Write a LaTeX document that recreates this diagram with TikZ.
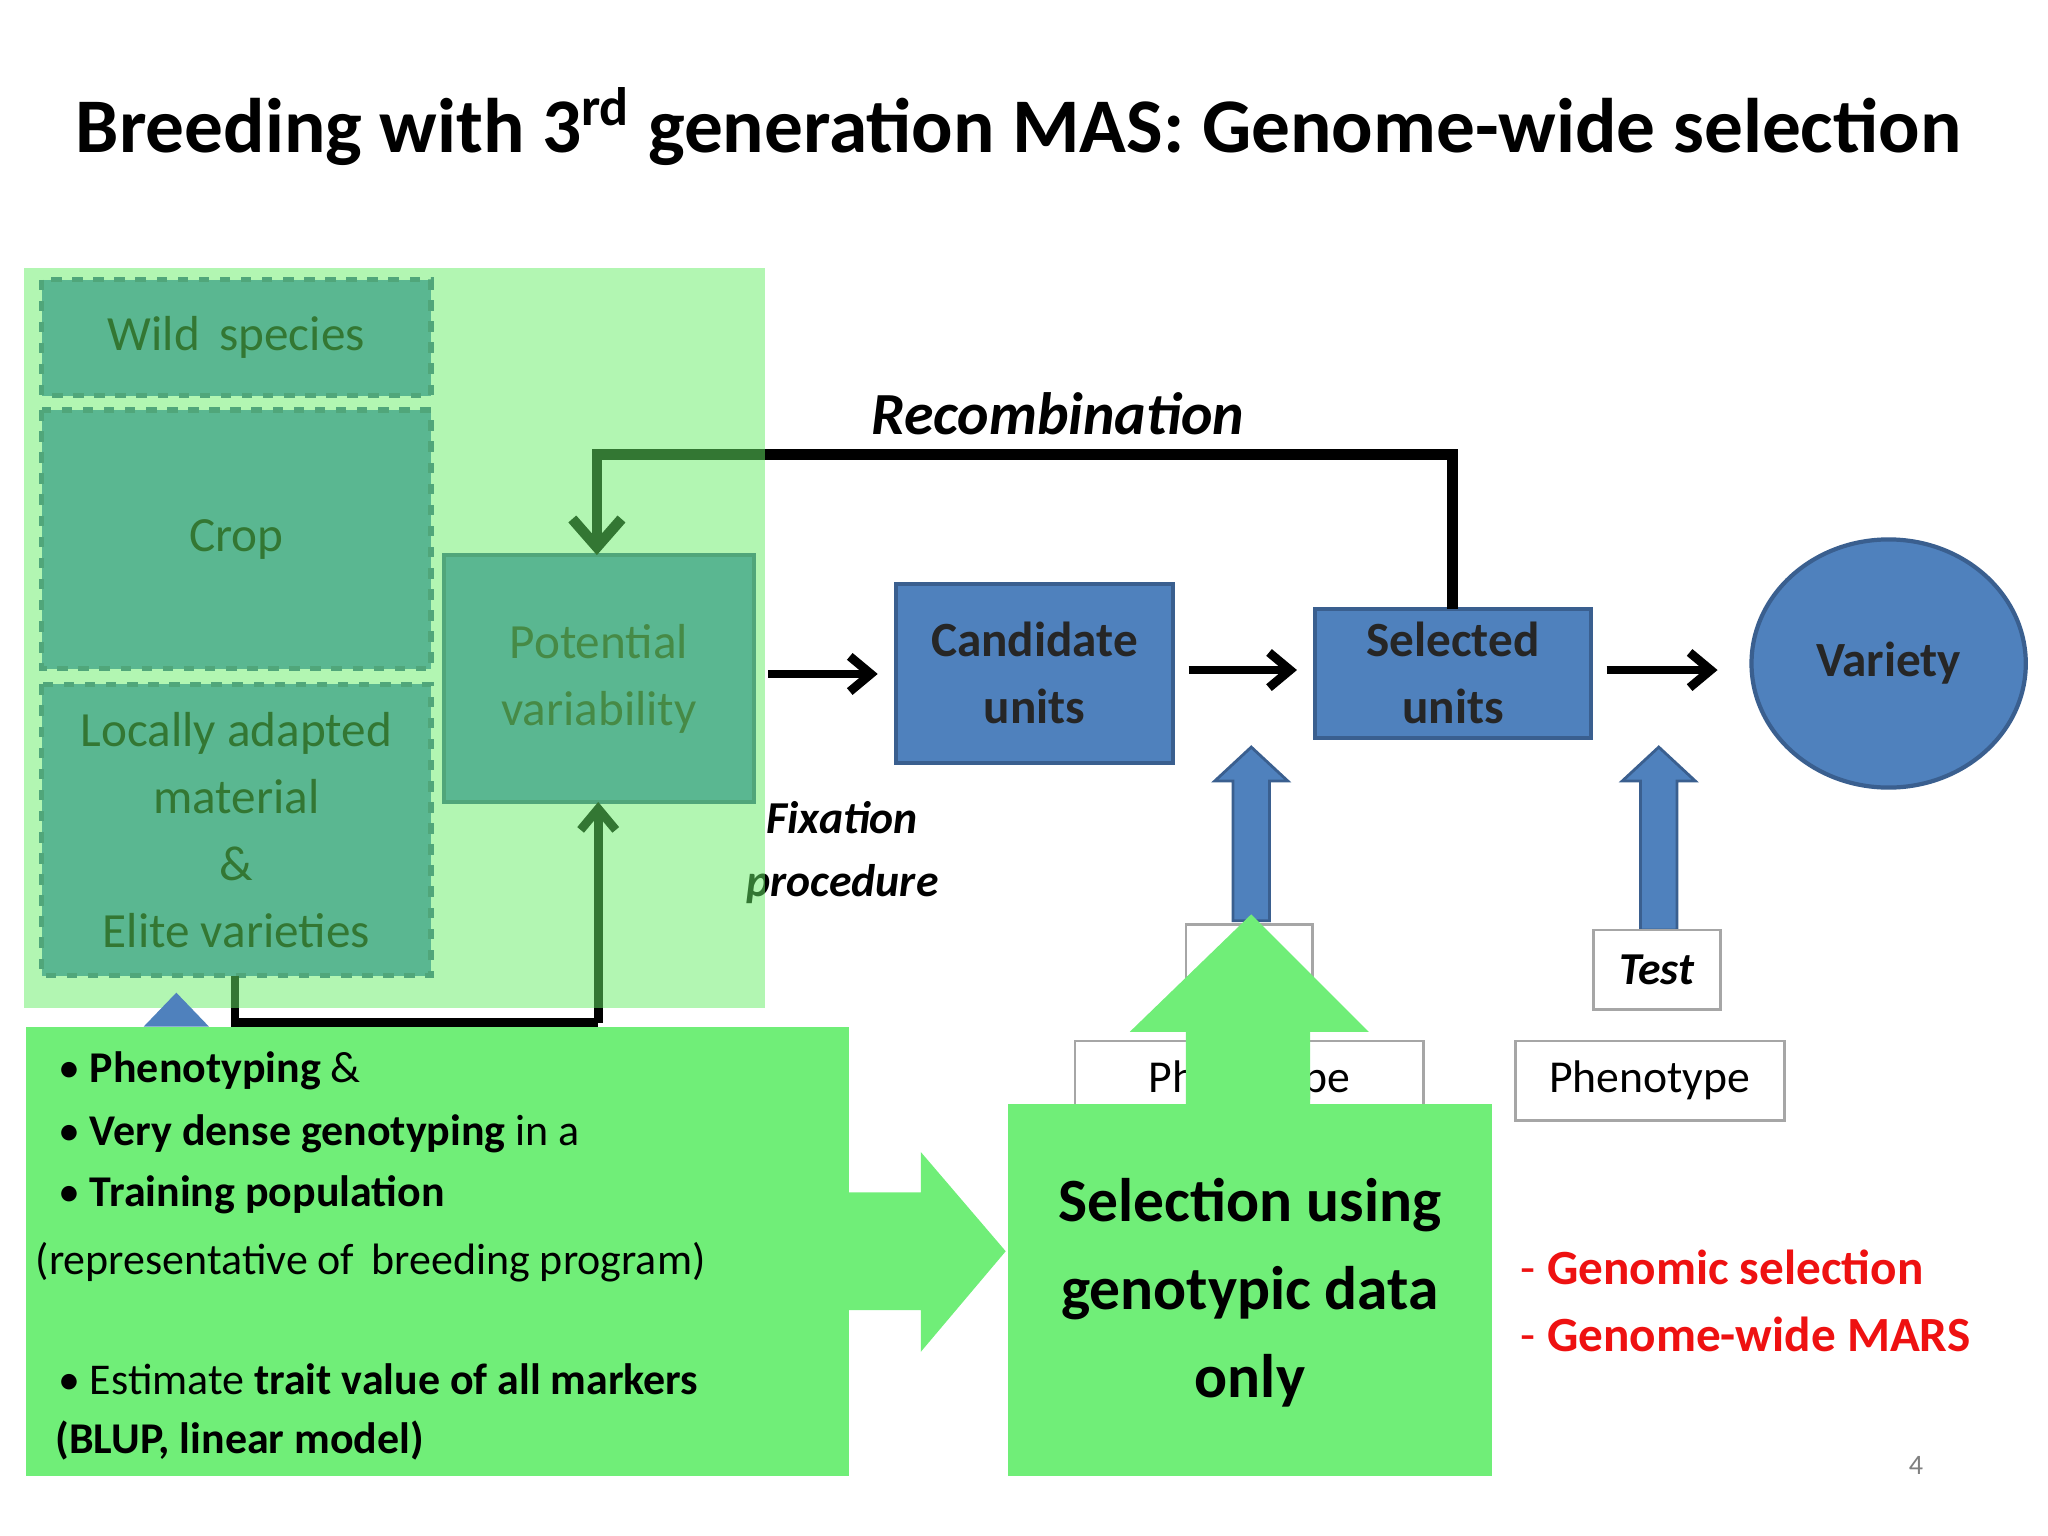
\documentclass[tikz,border=0pt]{standalone}
\usepackage{fontspec}
\setmainfont{Carlito}
\usetikzlibrary{arrows.meta}
\definecolor{bx}{HTML}{4F81BD}
\definecolor{bxd}{HTML}{3A5F8F}
\definecolor{gov}{HTML}{66EE66}
\definecolor{gsol}{HTML}{70EE78}
\definecolor{redt}{HTML}{EE1111}
\tikzset{
  blue box/.style={fill=bx,draw=bxd,line width=1.2pt,align=center,font=\fontsize{14}{17}\selectfont\bfseries,text=black!85},
  dash box/.style={fill=bx,draw=bxd,line width=1.5pt,dashed,align=center,font=\fontsize{14}{17}\selectfont,text=black},
  flow/.style={-{Straight Barb[length=6pt,width=10pt]},line width=2.5pt},
  wbox/.style={draw=gray!70,fill=white,line width=0.8pt},
  bluearrow/.style={fill=bx,draw=bxd,line width=0.8pt}
}
\begin{document}
\begin{tikzpicture}[x=0.01306cm,y=-0.01306cm]
\useasboundingbox (0,0) rectangle (1568,1176);
\node (title) at (780,97) {\fontsize{22}{26}\selectfont\bfseries Breeding with 3\textsuperscript{rd} generation MAS: Genome-wide selection};
\draw[dash box] (32,214) rectangle (330,303) node[midway] (wild) {Wild\, species};
\draw[dash box] (32,314) rectangle (330,512) node[midway] (crop) {Crop};
\draw[dash box] (32,524) rectangle (330,747) node[midway] (local) {Locally adapted\\[2pt]material\\[2pt]\&\\[2pt]Elite varieties};
\draw[blue box,font=\fontsize{14}{17}\selectfont] (340,425) rectangle (577,614) node[midway] (pot) {Potential\\[2pt]variability};
\coordinate (pottop) at (457,425);
\coordinate (potbot) at (458,614);
\draw[blue box] (686,447) rectangle (898,584) node[midway] (cand) {Candidate\\[2pt]units};
\draw[blue box] (1007,466) rectangle (1218,565) node[midway] (sel) {Selected\\[2pt]units};
\fill[bx] (1446,508) ellipse [x radius=105, y radius=95];
\draw[bxd,line width=1.2pt] (1446,508) ellipse [x radius=105, y radius=95];
\node[font=\fontsize{14}{17}\selectfont\bfseries,text=black!85] (var) at (1446,508) {Variety};
\coordinate (s0) at (1112,466);
\coordinate (r1) at (1112,348); \coordinate (r2) at (457,348);
\draw[line width=3pt] (s0) -- (r1) -- (r2) -- (457,410);
\draw[-{Straight Barb[length=8pt,width=14pt]},line width=3pt] (457,400) -- (pottop);
\node[font=\fontsize{17}{20}\selectfont\bfseries\itshape] (rec) at (810,317) {Recombination};
\draw[flow] (588,516) -- (672,516);
\draw[flow] (910,513) -- (993,513);
\draw[flow] (1230,513) -- (1315,513);
\coordinate (c1) at (180,783); \coordinate (c2) at (458,783);
\draw[line width=2.5pt] (180,747) -- (c1) -- (c2);
\draw[flow] (c2) -- (potbot);
\node[font=\fontsize{13}{16}\selectfont\bfseries\itshape,align=center] (fix) at (645,653) {Fixation\\[2pt]procedure};
\fill[gov,opacity=0.5] (18,205) rectangle (586,772);
\draw[bluearrow] (944,705) -- (944,598) -- (930,598) -- (958,572) -- (986,598) -- (972,598) -- (972,705) -- cycle;
\draw[bluearrow] (1256,712) -- (1256,598) -- (1242,598) -- (1270,572) -- (1298,598) -- (1284,598) -- (1284,712) -- cycle;
\draw[wbox] (908,708) rectangle (1005,770);
\draw[wbox] (1220,712) rectangle (1317,773) node[midway,font=\fontsize{13}{16}\selectfont\bfseries\itshape] (test) {Test};
\draw[wbox] (823,797) rectangle (1090,858) node[midway,font=\fontsize{13}{16}\selectfont] (ph1) {Phenotype};
\draw[wbox] (1160,797) rectangle (1366,858) node[midway,font=\fontsize{13}{16}\selectfont] (ph2) {Phenotype};
\fill[gsol] (908,850) -- (908,790) -- (865,790) -- (958,700) -- (1048,790) -- (1003,790) -- (1003,850) -- cycle;
\fill[bx] (110,786) -- (135,760) -- (160,786) -- cycle;
\fill[gsol] (20,786) rectangle (650,1130);
\node[font=\fontsize{12.5}{15}\selectfont,anchor=west] at (35,820) {• \textbf{Phenotyping} \&};
\node[font=\fontsize{12.5}{15}\selectfont,anchor=west] at (35,868) {• \textbf{Very dense genotyping} in a};
\node[font=\fontsize{12.5}{15}\selectfont,anchor=west] at (35,915) {• \textbf{Training population}};
\node[font=\fontsize{12.5}{15}\selectfont,anchor=west] at (18,966) {(representative of\, breeding program)};
\node[font=\fontsize{12.5}{15}\selectfont,anchor=west] at (35,1056) {• Estimate \textbf{trait value of all markers}};
\node[font=\fontsize{12.5}{15}\selectfont\bfseries,anchor=west] at (33,1103) {(BLUP, linear model)};
\fill[gsol] (640,913) -- (705,913) -- (705,882) -- (770,958) -- (705,1035) -- (705,1003) -- (640,1003) -- cycle;
\fill[gsol] (772,845) rectangle (1142,1130);
\node[font=\fontsize{17.5}{23}\selectfont\bfseries,align=center] (selg) at (957,990) {Selection using\\[2pt]genotypic data\\[2pt]only};
\node[font=\fontsize{14}{17}\selectfont,text=redt,anchor=west] at (1155,970) {- \textbf{Genomic selection}};
\node[font=\fontsize{14}{17}\selectfont,text=redt,anchor=west] at (1155,1022) {- \textbf{Genome-wide MARS}};
\node[font=\fontsize{8}{10}\selectfont,text=gray] at (1467,1122) {4};
\end{tikzpicture}
\end{document}
